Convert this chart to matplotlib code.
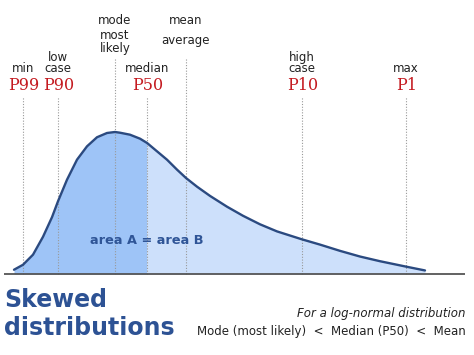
import matplotlib
matplotlib.use("Agg")
import matplotlib.pyplot as plt
import numpy as np

# density curve (x in chart units, y relative to the peak)
curve_x = [14, 23, 33, 43, 52, 58, 67, 77, 87, 97, 107, 115, 120, 130, 140, 147,
           157, 167, 177, 186, 197, 210, 227, 243, 260, 277, 302, 320, 340, 360,
           380, 406, 425]
curve_y = [0.030, 0.065, 0.136, 0.262, 0.400, 0.512, 0.664, 0.805, 0.899, 0.963,
           0.993, 1.000, 0.995, 0.981, 0.953, 0.923, 0.864, 0.805, 0.735, 0.676,
           0.615, 0.550, 0.474, 0.410, 0.350, 0.300, 0.244, 0.207, 0.163, 0.123,
           0.090, 0.052, 0.025]

# percentile markers
pct_x = [23, 58, 147, 302, 406]
pct_labels = ["P99", "P90", "P50", "P10", "P1"]
pct_names = ["min", "low\ncase", "median", "high\ncase", "max"]

# mode / mean markers
stat_x = [115, 186]
stat_names = ["mode", "mean"]
stat_notes = ["most\nlikely", "average"]

median_x = 147

DARK_FILL = "#9ec4f7"
LIGHT_FILL = "#cde0fb"
LINE = "#2b4a80"
TITLE = "#2d5294"
RED = "#c41a20"

fig = plt.figure(figsize=(4.74, 3.55), dpi=100)
ax = fig.add_axes([0, 0, 1, 1])
px = 142.0  # pixels per unit of density
ax.set_xlim(0, 474)
ax.set_ylim(-81 / px, 274 / px)
ax.axis("off")

cx = np.array(curve_x, dtype=float)
cy = np.array(curve_y, dtype=float)
ax.fill_between(cx, 0, cy, where=cx <= median_x, color=DARK_FILL, lw=0, zorder=1)
ax.fill_between(cx, 0, cy, where=cx >= median_x, color=LIGHT_FILL, lw=0, zorder=1)


def yb(pix):
    return (274 - pix) / px


ax.vlines(pct_x, 0, yb(97), colors="#999999", linestyles=(0, (1, 1.5)), lw=0.8, zorder=2)
ax.vlines(stat_x, 0, yb(58), colors="#999999", linestyles=(0, (1, 1.5)), lw=0.8, zorder=2)

ax.plot(cx, cy, color=LINE, lw=1.7, solid_capstyle="round", solid_joinstyle="round", zorder=3)
ax.hlines(0, 4, 465, colors="#555555", lw=1.3, zorder=3)

lab = dict(fontsize=8.5, color="#222222", ha="center", va="baseline")


def stacked(x, text, bases):
    for line, b in zip(text.split("\n"), bases):
        ax.text(x, yb(b), line, **lab)


for x, name in zip(pct_x, pct_names):
    stacked(x, name, [60.7, 72.3] if "\n" in name else [72.3])
for x, p in zip(pct_x, pct_labels):
    ax.text(x + 1, yb(90), p, fontsize=11.5, color=RED, family="DejaVu Serif",
            ha="center", va="baseline")

stacked(stat_x[0], stat_names[0], [24])
stacked(stat_x[0], stat_notes[0], [39.3, 51.7])
stacked(stat_x[1], stat_names[1], [24])
stacked(stat_x[1], stat_notes[1], [44.3])

ax.text(median_x, yb(244), "area A = area B", fontsize=9.3, fontweight="bold",
        color="#2f5597", ha="center", va="baseline", zorder=4)

ax.text(4, yb(306.7), "Skewed", fontsize=17, fontweight="bold", color=TITLE,
        ha="left", va="baseline")
ax.text(4, yb(335), "distributions", fontsize=17, fontweight="bold", color=TITLE,
        ha="left", va="baseline")

ax.text(466, yb(317), "For a log-normal distribution", fontsize=8.5, style="italic",
        color="#222222", ha="right", va="baseline")
ax.text(466, yb(335), "Mode (most likely)  <  Median (P50)  <  Mean", fontsize=8.5,
        color="#222222", ha="right", va="baseline")

fig.savefig("out.png", dpi=100)
